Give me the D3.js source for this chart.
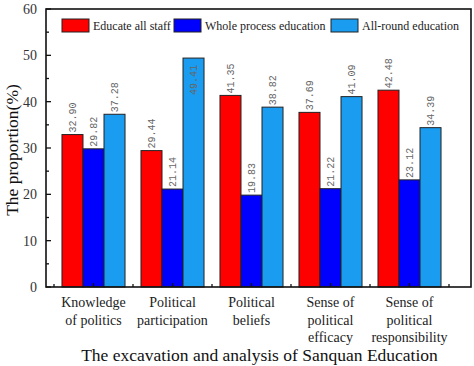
<!DOCTYPE html>
<html>
<head>
<meta charset="utf-8">
<script src="https://cdn.jsdelivr.net/npm/d3@7"></script>
<style>
  body { margin: 0; background: #fff; }
  text { font-family: "Liberation Serif", "Times New Roman", serif; }
</style>
</head>
<body>
<div id="chart"></div>
<script>
// data
var categories = [["Knowledge", "of politics"], ["Political", "participation"], ["Political", "beliefs"],
                  ["Sense of", "political", "efficacy"], ["Sense of", "political", "responsibility"]];
var seriesNames = ["Educate all staff", "Whole process education", "All-round education"];
var educateAll = [32.90, 29.44, 41.35, 37.69, 42.48];
var wholeProcess = [29.82, 21.14, 19.83, 21.22, 23.12];
var allRound = [37.28, 49.41, 38.82, 41.09, 34.39];
var yTicks = [0, 10, 20, 30, 40, 50, 60];
var colors = ["#ff0000", "#0000ff", "#1a9cf0"];

var W = 474, H = 366;
var plot = {left: 46, right: 471, top: 9, bottom: 287};
var serif = "'Liberation Serif', 'Times New Roman', serif";

var svg = d3.select("#chart").append("svg")
    .attr("width", W)
    .attr("height", H);

var series = [educateAll, wholeProcess, allRound];
var keys = categories.map(function(c, i) { return i; });

var x0 = d3.scaleBand()
    .domain(keys)
    .range([54, 449])
    .padding(0);

var x1 = d3.scaleBand()
    .domain([0, 1, 2])
    .range([0, x0.bandwidth()])
    .paddingInner(0)
    .paddingOuter(0.38);

var y = d3.scaleLinear()
    .domain([0, 60])
    .range([plot.bottom, plot.top]);

// bars
var groups = svg.selectAll("g.group")
    .data(keys)
    .enter()
    .append("g")
    .attr("class", "group")
    .attr("transform", function(d) { return "translate(" + x0(d) + ",0)"; });

groups.selectAll("rect")
    .data(function(d) { return series.map(function(s, j) { return {s: j, v: s[d]}; }); })
    .enter()
    .append("rect")
    .attr("x", function(d) { return x1(d.s); })
    .attr("y", function(d) { return y(d.v); })
    .attr("width", x1.bandwidth())
    .attr("height", function(d) { return y(0) - y(d.v); })
    .attr("fill", function(d) { return colors[d.s]; })
    .attr("stroke", "#222")
    .attr("stroke-width", 1);

// value labels, rotated
groups.selectAll("text.val")
    .data(function(d) { return series.map(function(s, j) { return {s: j, v: s[d]}; }); })
    .enter()
    .append("text")
    .attr("class", "val")
    .attr("transform", function(d) {
        var cx = x1(d.s) + x1.bandwidth() / 2 + 3.5;
        // the tallest label would run into the legend, so it sits inside the bar
        var yy = d.v > 45 ? y(d.v) + 37 : y(d.v) - 2;
        return "translate(" + cx + "," + yy + ") rotate(-90)";
    })
    .style("font-family", "'Liberation Mono', monospace")
    .style("font-size", "10px")
    .attr("fill", "#666")
    .text(function(d) { return d.v.toFixed(2); });

// frame
svg.append("rect")
    .attr("x", plot.left)
    .attr("y", plot.top)
    .attr("width", plot.right - plot.left)
    .attr("height", plot.bottom - plot.top)
    .attr("fill", "none")
    .attr("stroke", "#111")
    .attr("stroke-width", 1.6);

// y ticks (inward)
var yAxis = svg.append("g").attr("class", "y axis");
yAxis.selectAll("line.major")
    .data(yTicks)
    .enter()
    .append("line")
    .attr("x1", plot.left).attr("x2", plot.left + 5)
    .attr("y1", function(d) { return y(d); })
    .attr("y2", function(d) { return y(d); })
    .attr("stroke", "#111").attr("stroke-width", 1.3);

yAxis.selectAll("line.minor")
    .data(yTicks.slice(1).map(function(d) { return d - 5; }))
    .enter()
    .append("line")
    .attr("x1", plot.left).attr("x2", plot.left + 3)
    .attr("y1", function(d) { return y(d); })
    .attr("y2", function(d) { return y(d); })
    .attr("stroke", "#111").attr("stroke-width", 1.3);

yAxis.selectAll("text")
    .data(yTicks)
    .enter()
    .append("text")
    .attr("x", plot.left - 9)
    .attr("y", function(d) { return y(d) + 5; })
    .attr("text-anchor", "end")
    .style("font-family", serif)
    .style("font-size", "14px")
    .attr("fill", "#333")
    .text(function(d) { return d; });

// x ticks
var bounds = keys.map(function(d) { return x0(d); }).concat([x0.range()[1]]);
svg.append("g").selectAll("line")
    .data(bounds)
    .enter()
    .append("line")
    .attr("x1", function(d) { return d; }).attr("x2", function(d) { return d; })
    .attr("y1", plot.bottom).attr("y2", plot.bottom - 3)
    .attr("stroke", "#111").attr("stroke-width", 1.3);

svg.append("g").selectAll("line")
    .data(keys)
    .enter()
    .append("line")
    .attr("x1", function(d) { return x0(d) + x0.bandwidth() / 2; })
    .attr("x2", function(d) { return x0(d) + x0.bandwidth() / 2; })
    .attr("y1", plot.bottom).attr("y2", plot.bottom - 4)
    .attr("stroke", "#111").attr("stroke-width", 1.3);

// category labels
var cat = svg.selectAll("text.cat")
    .data(keys)
    .enter()
    .append("text")
    .attr("class", "cat")
    .attr("text-anchor", "middle")
    .style("font-family", serif)
    .style("font-size", "14px")
    .attr("fill", "#222");

cat.selectAll("tspan")
    .data(function(d) { return categories[d].map(function(t) { return {t: t, k: d}; }); })
    .enter()
    .append("tspan")
    .attr("x", function(d) { return x0(d.k) + x0.bandwidth() / 2; })
    .attr("y", function(d, i) { return 307 + i * 17.5; })
    .text(function(d) { return d.t; });

// axis titles
svg.append("text")
    .attr("x", (plot.left + plot.right) / 2 + 1)
    .attr("y", 361)
    .attr("text-anchor", "middle")
    .style("font-family", serif)
    .style("font-size", "17.5px")
    .attr("fill", "#111")
    .text("The excavation and analysis of Sanquan Education");

svg.append("text")
    .attr("transform", "translate(18,150) rotate(-90)")
    .attr("text-anchor", "middle")
    .style("font-family", serif)
    .style("font-size", "17.5px")
    .attr("fill", "#111")
    .text("The proportion(%)");

// legend
var legendX = [62, 174, 331];
var legend = svg.selectAll("g.legend")
    .data(seriesNames)
    .enter()
    .append("g")
    .attr("class", "legend")
    .attr("transform", function(d, i) { return "translate(" + legendX[i] + ",19)"; });

legend.append("rect")
    .attr("width", 27)
    .attr("height", 13)
    .attr("fill", function(d, i) { return colors[i]; })
    .attr("stroke", "#222");

legend.append("text")
    .attr("x", 31)
    .attr("y", 11)
    .style("font-family", serif)
    .style("font-size", "12px")
    .attr("fill", "#222")
    .text(function(d) { return d; });
</script>
</body>
</html>
